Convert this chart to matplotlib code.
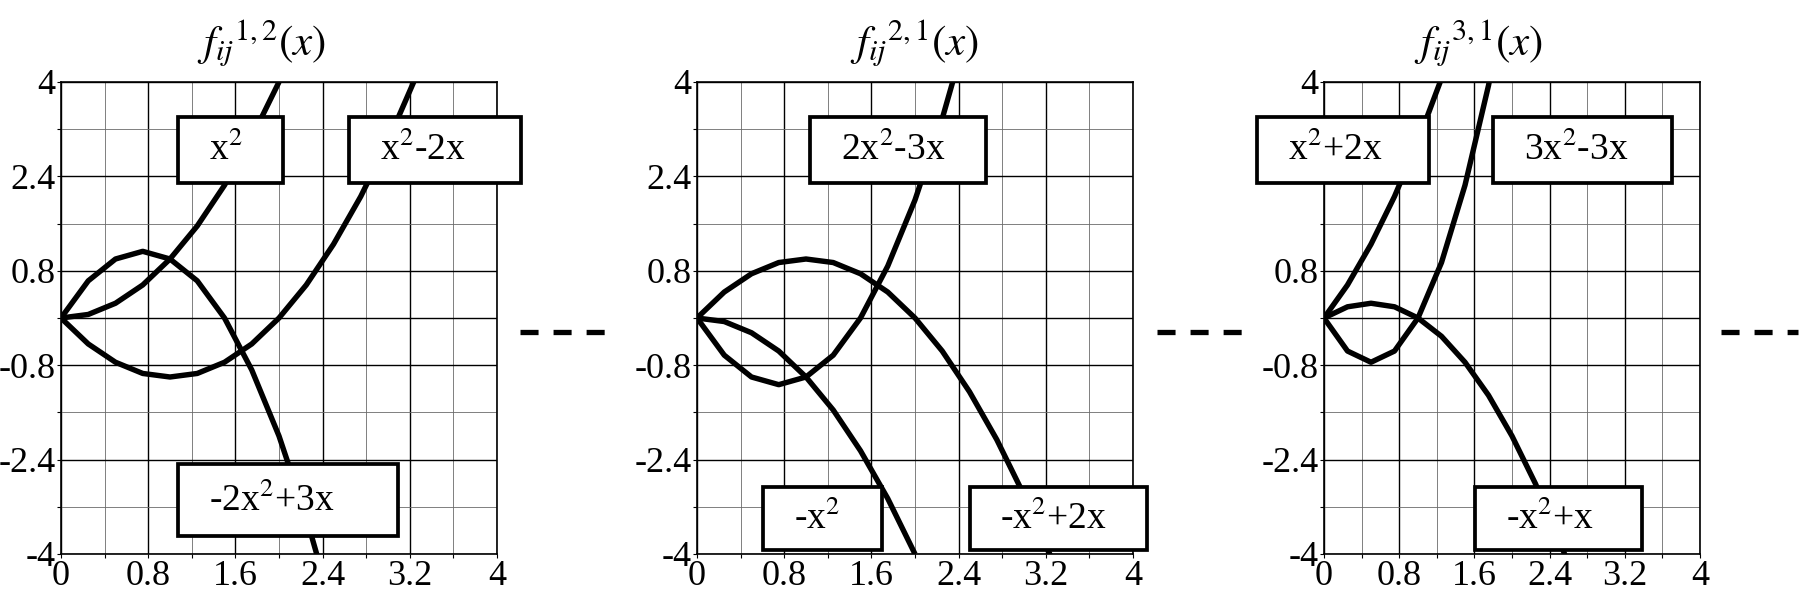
import matplotlib
matplotlib.use('Agg')
import matplotlib.pyplot as plt
from matplotlib.patches import Rectangle
from matplotlib.lines import Line2D
from matplotlib.transforms import offset_copy

plt.rcParams['font.family'] = ['Liberation Serif', 'STIXGeneral', 'DejaVu Serif']
plt.rcParams['mathtext.fontset'] = 'stix'
plt.rcParams['axes.unicode_minus'] = False
plt.rcParams['lines.scale_dashes'] = False

# ---- data ----
titles = [r'$f_{ij}{}^{\mathit{1,2}}(x)$',
          r'$f_{ij}{}^{\mathit{2,1}}(x)$',
          r'$f_{ij}{}^{\mathit{3,1}}(x)$']

# panel 1
p1_x_a = [0, 0.25, 0.5, 0.75, 1.0, 1.25, 1.5, 1.75, 2.0]
p1_y_a = [0, 0.06, 0.25, 0.56, 1.0, 1.56, 2.25, 3.06, 4.0]                     # x^2
p1_x_b = [0, 0.25, 0.5, 0.75, 1.0, 1.25, 1.5, 1.75, 2.0, 2.25, 2.5, 2.75, 3.0, 3.25]
p1_y_b = [0, -0.44, -0.75, -0.94, -1.0, -0.94, -0.75, -0.44, 0, 0.56, 1.25, 2.06, 3.0, 4.06]  # x^2-2x
p1_x_c = [0, 0.25, 0.5, 0.75, 1.0, 1.25, 1.5, 1.75, 2.0, 2.25, 2.5]
p1_y_c = [0, 0.63, 1.0, 1.13, 1.0, 0.63, 0, -0.88, -2.0, -3.38, -5.0]         # -2x^2+3x

# panel 2
p2_x_a = [0, 0.25, 0.5, 0.75, 1.0, 1.25, 1.5, 1.75, 2.0, 2.25, 2.5]
p2_y_a = [0, -0.63, -1.0, -1.13, -1.0, -0.63, 0, 0.88, 2.0, 3.38, 5.0]        # 2x^2-3x
p2_x_b = [0, 0.25, 0.5, 0.75, 1.0, 1.25, 1.5, 1.75, 2.0]
p2_y_b = [0, -0.06, -0.25, -0.56, -1.0, -1.56, -2.25, -3.06, -4.0]            # -x^2
p2_x_c = [0, 0.25, 0.5, 0.75, 1.0, 1.25, 1.5, 1.75, 2.0, 2.25, 2.5, 2.75, 3.0, 3.25]
p2_y_c = [0, 0.44, 0.75, 0.94, 1.0, 0.94, 0.75, 0.44, 0, -0.56, -1.25, -2.06, -3.0, -4.06]  # -x^2+2x

# panel 3
p3_x_a = [0, 0.25, 0.5, 0.75, 1.0, 1.25]
p3_y_a = [0, 0.56, 1.25, 2.06, 3.0, 4.06]                                     # x^2+2x
p3_x_b = [0, 0.25, 0.5, 0.75, 1.0, 1.25, 1.5, 1.75, 2.0]
p3_y_b = [0, -0.56, -0.75, -0.56, 0, 0.94, 2.25, 3.94, 6.0]                   # 3x^2-3x
p3_x_c = [0, 0.25, 0.5, 0.75, 1.0, 1.25, 1.5, 1.75, 2.0, 2.25, 2.5, 2.75]
p3_y_c = [0, 0.19, 0.25, 0.19, 0, -0.31, -0.75, -1.31, -2.0, -2.81, -3.75, -4.81]  # -x^2+x

# label boxes: (x0, x1, y0, y1, text)
p1_boxes = [(1.07, 2.04, 2.29, 3.41, 'x$^2$'),
            (2.64, 4.22, 2.29, 3.41, 'x$^2$-2x'),
            (1.07, 3.09, -3.70, -2.48, '-2x$^2$+3x')]
p2_boxes = [(1.04, 2.65, 2.29, 3.41, '2x$^2$-3x'),
            (0.61, 1.70, -3.94, -2.87, '-x$^2$'),
            (2.50, 4.13, -3.94, -2.87, '-x$^2$+2x')]
p3_boxes = [(-0.71, 1.12, 2.29, 3.41, 'x$^2$+2x'),
            (1.80, 3.70, 2.29, 3.41, '3x$^2$-3x'),
            (1.61, 3.38, -3.94, -2.87, '-x$^2$+x')]

x_major = [0, 0.8, 1.6, 2.4, 3.2, 4]
x_major_labels = ['0', '0.8', '1.6', '2.4', '3.2', '4']
x_minor = [0.4, 1.2, 2.0, 2.8, 3.6]
y_major = [-4, -2.4, -0.8, 0.8, 2.4, 4]
y_major_labels = ['-4', '-2.4', '-0.8', '0.8', '2.4', '4']
# the 2.4 label of the third panel sits hidden under the x^2+2x box
y_major_labels_p3 = ['-4', '-2.4', '-0.8', '0.8', '', '4']
y_minor = [-3.2, -1.6, 0, 1.6, 3.2]

panels = [
    (titles[0], [(p1_x_a, p1_y_a), (p1_x_b, p1_y_b), (p1_x_c, p1_y_c)], p1_boxes, y_major_labels),
    (titles[1], [(p2_x_a, p2_y_a), (p2_x_b, p2_y_b), (p2_x_c, p2_y_c)], p2_boxes, y_major_labels),
    (titles[2], [(p3_x_a, p3_y_a), (p3_x_b, p3_y_b), (p3_x_c, p3_y_c)], p3_boxes, y_major_labels_p3),
]

W, H = 1802, 593
fig = plt.figure(figsize=(W / 100, H / 100), dpi=100)

# axes rectangles in pixels: left, right ; top/bottom shared
ax_px = [(61, 497), (697, 1133), (1324, 1700)]
top_px, bot_px = 82, 554
title_x = [262, 915, 1479]

for (title, curves, boxes, ylabs), (l, r), tx in zip(panels, ax_px, title_x):
    ax = fig.add_axes([l / W, (H - bot_px) / H, (r - l) / W, (bot_px - top_px) / H])
    ax.set_xlim(0, 4)
    ax.set_ylim(-4, 4)
    ax.set_xticks(x_major)
    ax.set_xticklabels(x_major_labels)
    ax.set_xticks(x_minor, minor=True)
    ax.set_yticks(y_major)
    ax.set_yticklabels(ylabs)
    ax.set_yticks(y_minor, minor=True)
    ax.grid(which='major', color='black', lw=1.0)
    ax.grid(which='minor', color='#6a6a6a', lw=0.6)
    ax.axhline(0, color='black', lw=1.0, zorder=1)
    ax.tick_params(which='both', direction='out', length=3, width=0.8,
                   labelsize=26, pad=1)
    for s in ax.spines.values():
        s.set_linewidth(1.2)
    ax.set_axisbelow(True)

    for xs, ys in curves:
        ax.plot(xs, ys, color='black', lw=3.9, solid_joinstyle='round',
                solid_capstyle='butt', zorder=3)

    txt_tr = offset_copy(ax.transData, fig=fig, x=31, y=0, units='dots')
    for x0, x1, y0, y1, lab in boxes:
        ax.add_patch(Rectangle((x0, y0), x1 - x0, y1 - y0, facecolor='white',
                               edgecolor='black', lw=2.7, clip_on=False, zorder=10))
        ax.text(x0, (y0 + y1) / 2, lab, transform=txt_tr, fontsize=27,
                ha='left', va='center', zorder=11)

    fig.text(tx / W, 1 - 43 / H, title, fontsize=31, ha='center', va='center')

# dashed continuation marks between panels
for x0, x1 in [(520, 605), (1157, 1242), (1721, 1798)]:
    fig.add_artist(Line2D([x0 / W, x1 / W], [1 - 332 / H, 1 - 332 / H],
                          transform=fig.transFigure, color='black', lw=3.8,
                          dashes=(13, 10.8), solid_capstyle='butt',
                          dash_capstyle='butt'))

fig.savefig('out.png', dpi=100)
